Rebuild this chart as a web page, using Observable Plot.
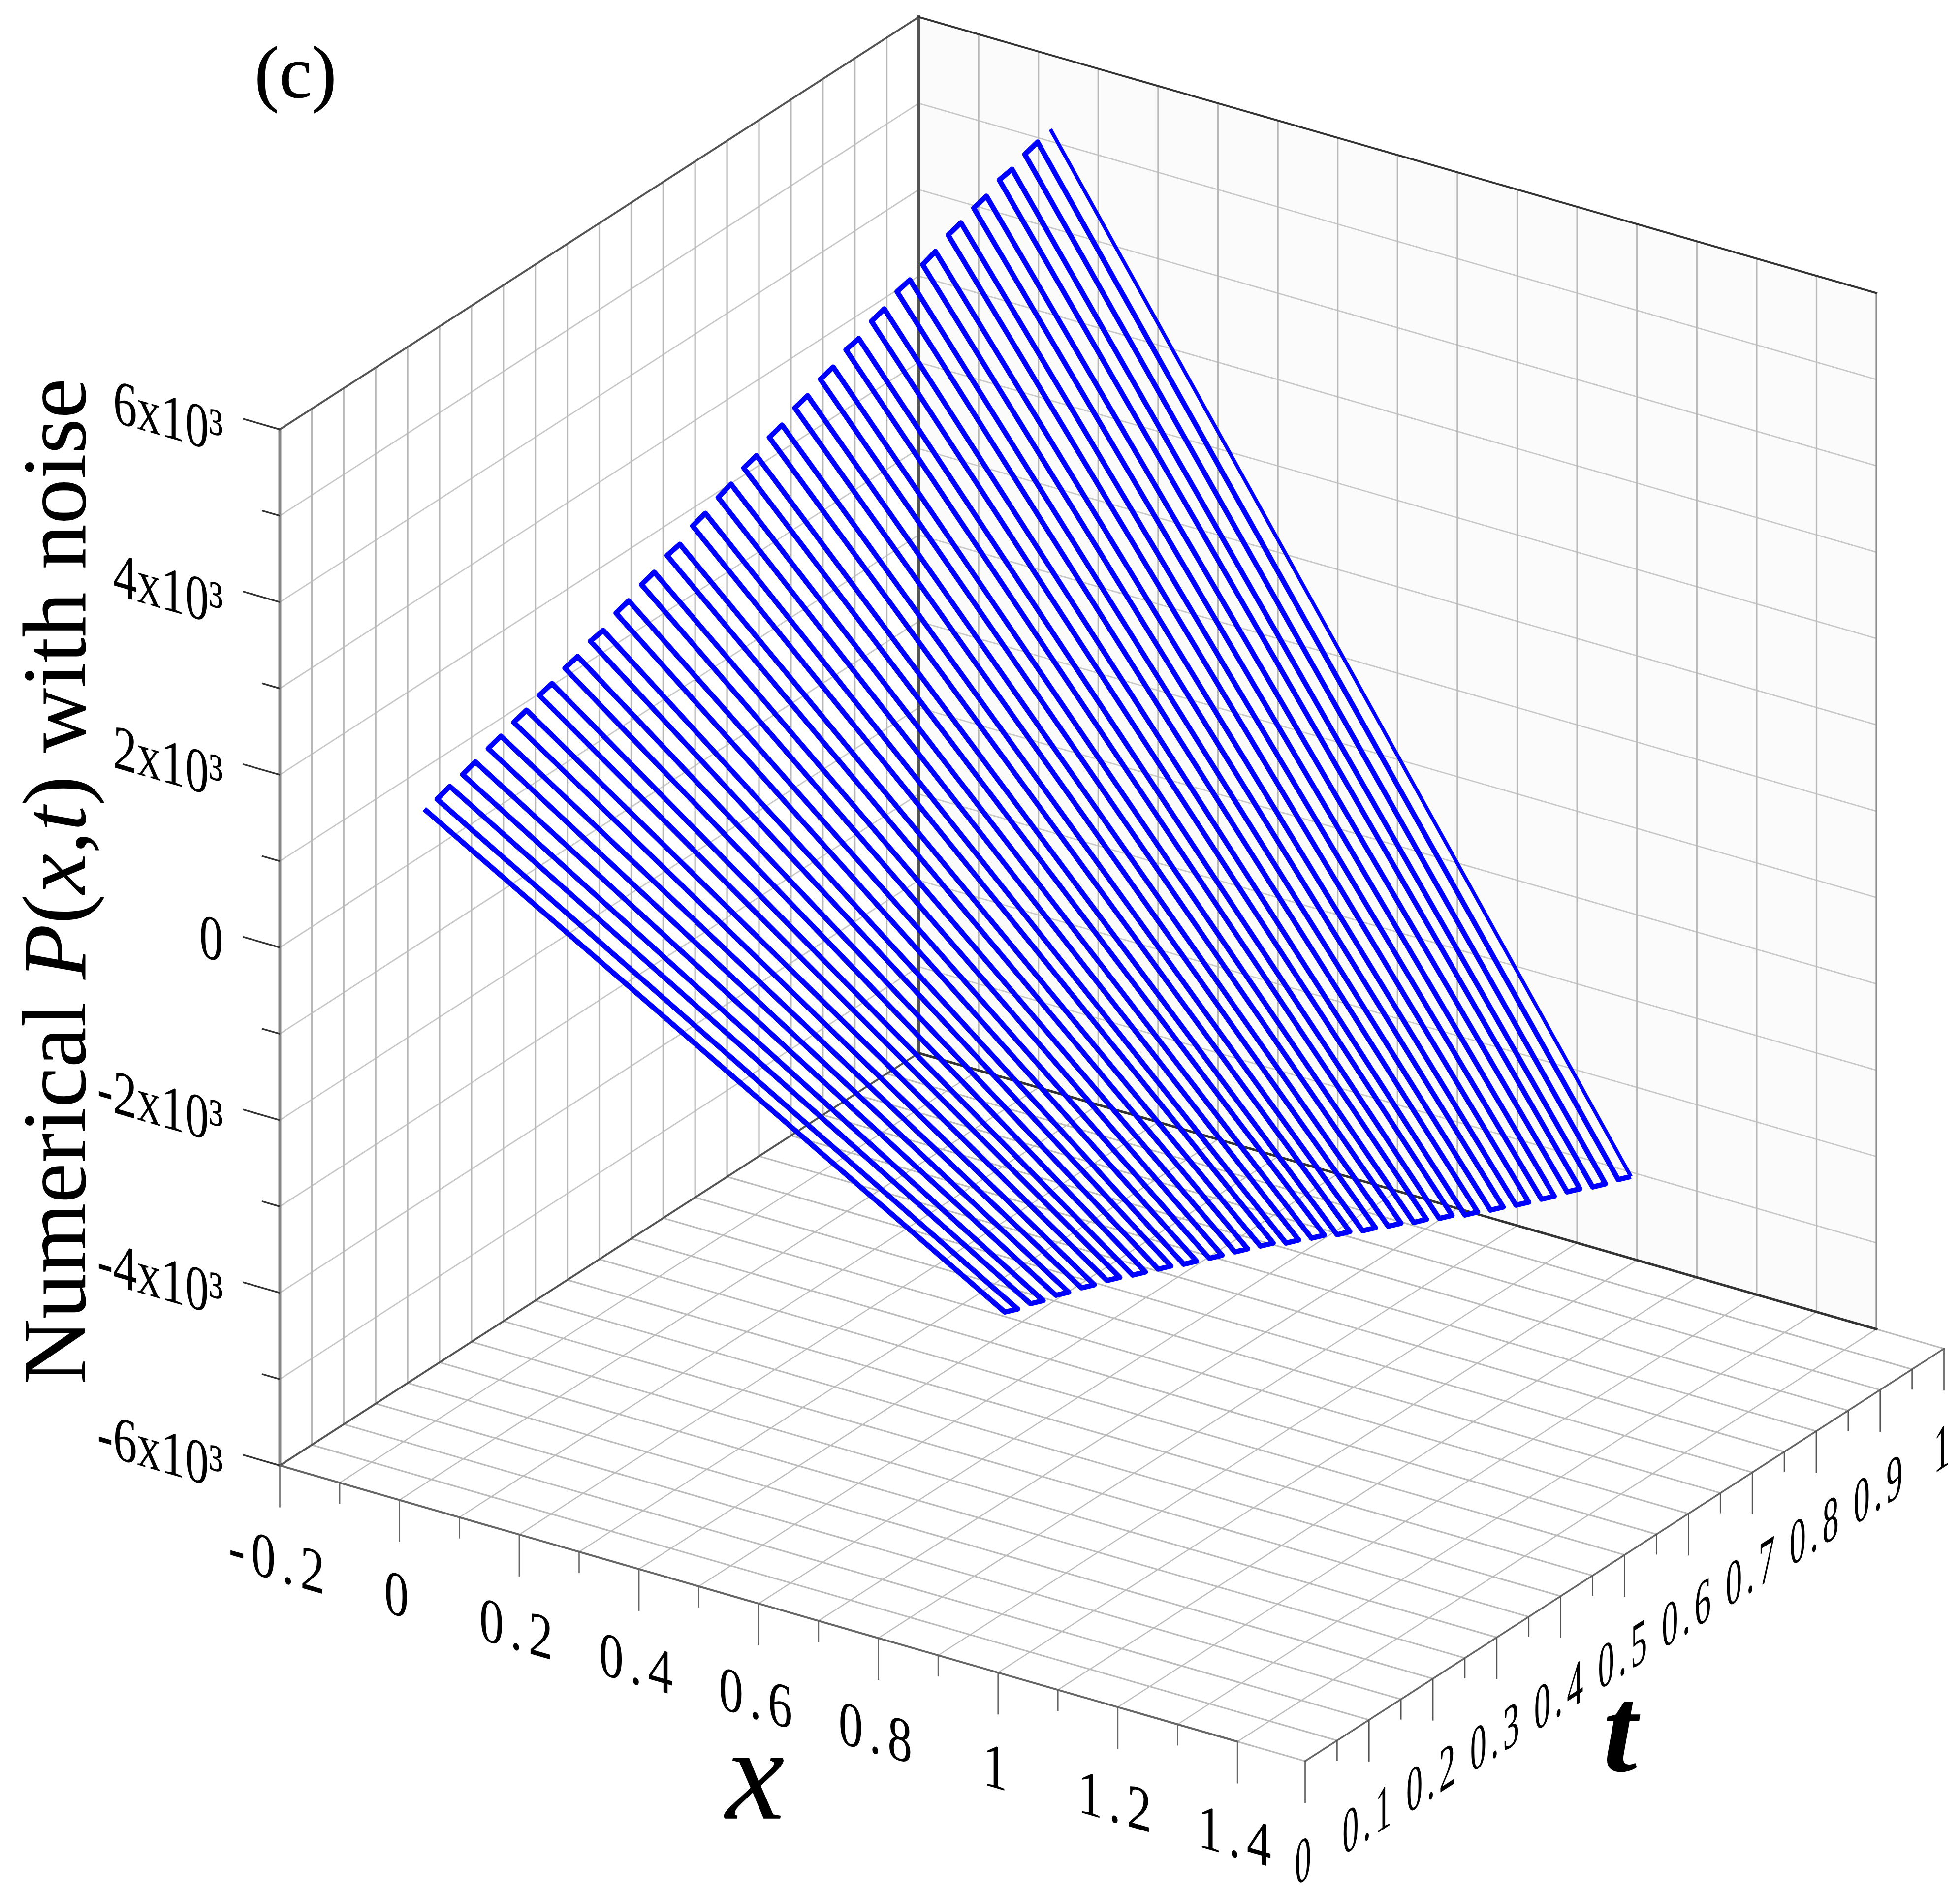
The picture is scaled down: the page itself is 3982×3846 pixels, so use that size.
<!DOCTYPE html>
<html>
<head>
<meta charset="utf-8">
<script src="https://cdn.jsdelivr.net/npm/d3@7"></script>
<script src="https://cdn.jsdelivr.net/npm/@observablehq/plot@0.6"></script>
<style>
html,body{margin:0;padding:0;background:#fff;overflow:hidden}
svg{display:block}
</style>
</head>
<body>
<div id="chart"></div>
<script>
// ---- chart values ----
const xGridValues = [-0.2,-0.1,0,0.1,0.2,0.3,0.4,0.5,0.6,0.7,0.8,0.9,1,1.1,1.2,1.3,1.4];
const tGridValues = [0,0.05,0.1,0.15,0.2,0.25,0.3,0.35,0.4,0.45,0.5,0.55,0.6,0.65,0.7,0.75,0.8,0.85,0.9,0.95,1];
const pGridValues = [-6000,-5000,-4000,-3000,-2000,-1000,0,1000,2000,3000,4000,5000,6000];
const xTickLabels = [[-0.2,"-0.2"],[0,"0"],[0.2,"0.2"],[0.4,"0.4"],[0.6,"0.6"],[0.8,"0.8"],[1,"1"],[1.2,"1.2"],[1.4,"1.4"]];
const tTickLabels = [[0,"0"],[0.1,"0.1"],[0.2,"0.2"],[0.3,"0.3"],[0.4,"0.4"],[0.5,"0.5"],[0.6,"0.6"],[0.7,"0.7"],[0.8,"0.8"],[0.9,"0.9"],[1,"1"]];
const pTickLabels = [[6000,"6x10³"],[4000,"4x10³"],[2000,"2x10³"],[0,"0"],[-2000,"-2x10³"],[-4000,"-4x10³"],[-6000,"-6x10³"]];

// zig-zag sampled curve: one P value at each end of every pass
const curveT = [0.02,0.04,0.06,0.08,0.10,0.12,0.14,0.16,0.18,0.20,0.22,0.24,0.26,0.28,0.30,0.32,0.34,0.36,0.38,0.40,0.42,0.44,0.46,0.48,0.50,
                0.52,0.54,0.56,0.58,0.60,0.62,0.64,0.66,0.68,0.70,0.72,0.74,0.76,0.78,0.80,0.82,0.84,0.86,0.88,0.90,0.92,0.94,0.96,0.98,1.00];
const curveLeftP = [1948,1966,2019,2061,2112,2171,2219,2283,2329,2405,2446,2528,2569,2650,2680,2784,2831,2923,2971,3069,3104,3220,3272,3359,3418,
                    3510,3557,3672,3720,3823,3870,3963,4010,4114,4149,4253,4301,4404,4446,4527,4585,4678,4725,4800,4842,4934,4963,5040,5087,5139];
const curveRightP = [-1940,-2000,-2034,-2094,-2128,-2188,-2233,-2293,-2339,-2399,-2467,-2527,-2589,-2649,-2724,-2784,-2846,-2906,-2963,-3023,-3087,-3147,-3243,-3303,-3377,
                     -3437,-3528,-3588,-3674,-3734,-3813,-3873,-3959,-4019,-4105,-4165,-4256,-4316,-4390,-4450,-4524,-4584,-4646,-4706,-4752,-4812,-4886,-4946,-4992,-5052];
const curveXLeft = 0.02, curveXRight = 0.99;

// ---- box of the 3-D plot ----
const xMin = -0.2, xMax = 1.4, xFloorEnd = 1.513, tMin = 0, tMax = 1, pMin = -6000, pMax = 6000;
const W = 3982, H = 3846;
const view = {x0: 568, y0: 2977, xX: 1216, xY: 350.6, tX: 1298, tY: -838, pY: -2105 / 12000};
const px = (x, t) => view.x0 + (x - xMin) * view.xX + t * view.tX;
const py = (x, t, p) => view.y0 + (x - xMin) * view.xY + t * view.tY + (p - pMin) * view.pY;
const P3 = (x, t, p) => ({X: px(x, t), Y: py(x, t, p)});
const seg = (a, b) => ({x1: px(a[0], a[1]), y1: py(a[0], a[1], a[2]), x2: px(b[0], b[1]), y2: py(b[0], b[1], b[2])});
const links = (arr, opts) => Plot.link(arr, {x1: "x1", y1: "y1", x2: "x2", y2: "y2", strokeLinecap: "square", ...opts});

// ---- derived geometry (through the projection only) ----
const rightWall = [[xMin,tMax,pMin],[xMax,tMax,pMin],[xMax,tMax,pMax],[xMin,tMax,pMax]].map(d => P3(...d));
const leftWallT = tGridValues.map(t => seg([xMin,t,pMin],[xMin,t,pMax]));
const leftWallP = pGridValues.map(p => seg([xMin,tMin,p],[xMin,tMax,p]));
const rightWallX = xGridValues.map(x => seg([x,tMax,pMin],[x,tMax,pMax]));
const rightWallP = pGridValues.map(p => seg([xMin,tMax,p],[xMax,tMax,p]));
const floorX = xGridValues.map(x => seg([x,tMin,pMin],[x,tMax,pMin]));
const floorT = tGridValues.map(t => seg([xMin,t,pMin],[xFloorEnd,t,pMin]));
const isMajor = (v, step) => Math.abs(Math.round(v / step) * step - v) < 1e-6;
const xTicks = xGridValues.map(x => seg([x,tMin,pMin],[x,tMin,pMin - (isMajor(x,0.2) ? 485 : 245)]));
const tTicks = tGridValues.map(t => seg([xFloorEnd,t,pMin],[xFloorEnd,t,pMin - (isMajor(t,0.1) ? 485 : 235)]));
const pTicks = pGridValues.map(p => seg([xMin,tMin,p],[xMin - (isMajor(p,2000) ? 0.0617 : 0.03),tMin,p]));

const curve = [];
curveT.forEach((t, i) => {
  const L = P3(curveXLeft, t, curveLeftP[i]), R = P3(curveXRight, t, curveRightP[i]);
  if (i % 2 === 0) curve.push(L, R); else curve.push(R, L);
});
const lastPass = curve.slice(-2);   // the closing pass is drawn a little finer in the reference
const mainPasses = curve.slice(0, -1);

const xLabelData = xTickLabels.map(([v, s]) => ({...P3(v, tMin, -7110), s}));
const tLabelData = tTickLabels.map(([v, s]) => ({...P3(xFloorEnd, v, -7140), s}));
const pLabelData = pTickLabels.map(([v, s]) => ({...P3(-0.2946, tMin, v - (v === 0 ? 130 : 234)), s}));
const titles = {
  c: P3(-0.2, 0.0247, 10000),
  y: P3(-0.5734, 0, 20),
  x: P3(0.594, 0, -8010),
  t: P3(xFloorEnd, 0.4931, -8014)
};

const serif = "'Liberation Serif','Times New Roman',serif";
const txt = (data, label, opts) => Plot.text(data, {x: "X", y: "Y", text: "s", fill: "#000", fontFamily: serif, ariaDescription: label, ...opts});

const chart = Plot.plot({
  width: W, height: H,
  marginTop: 0, marginRight: 0, marginBottom: 0, marginLeft: 0,
  x: {domain: [0, W], range: [0, W], axis: null},
  y: {domain: [0, H], range: [0, H], axis: null},
  style: {background: "#fff", maxWidth: "none"},
  marks: [
    Plot.line(rightWall, {x: "X", y: "Y", z: null, fill: "#fbfbfb", stroke: "none", curve: "linear-closed"}),
    links(leftWallP, {stroke: "#c8c8c8", strokeWidth: 2.8}),
    links(leftWallT, {stroke: "#b8b8b8", strokeWidth: 3.2}),
    links(rightWallP, {stroke: "#c8c8c8", strokeWidth: 2.8}),
    links(rightWallX, {stroke: "#b8b8b8", strokeWidth: 3.2}),
    links(floorX, {stroke: "#bcbcbc", strokeWidth: 2.4}),
    links(floorT, {stroke: "#bcbcbc", strokeWidth: 3.2}),
    // box edges
    links([seg([xMin,tMin,pMin],[xMin,tMin,pMax])], {stroke: "#858585", strokeWidth: 6}),
    links([seg([xMin,tMax,pMin],[xMin,tMax,pMax])], {stroke: "#555", strokeWidth: 7}),
    links([seg([xMax,tMax,pMin],[xMax,tMax,pMax])], {stroke: "#8c8c8c", strokeWidth: 3}),
    links([seg([xMin,tMin,pMax],[xMin,tMax,pMax])], {stroke: "#555", strokeWidth: 4}),
    links([seg([xMin,tMax,pMax],[xMax,tMax,pMax])], {stroke: "#333", strokeWidth: 4}),
    links([seg([xMin,tMin,pMin],[xMin,tMax,pMin])], {stroke: "#555", strokeWidth: 4}),
    links([seg([xMin,tMax,pMin],[xMax,tMax,pMin])], {stroke: "#333", strokeWidth: 5}),
    links([seg([xMin,tMin,pMin],[xMax,tMin,pMin])], {stroke: "#666", strokeWidth: 4}),
    links([seg([xFloorEnd,tMin,pMin],[xFloorEnd,tMax,pMin])], {stroke: "#666", strokeWidth: 3.5}),
    links(xTicks, {stroke: "#666", strokeWidth: 2.6, strokeLinecap: "butt"}),
    links(tTicks, {stroke: "#555", strokeWidth: 2.6, strokeLinecap: "butt"}),
    links(pTicks, {stroke: "#333", strokeWidth: 3.4, strokeLinecap: "butt"}),
    // data
    Plot.line(mainPasses, {x: "X", y: "Y", z: null, stroke: "#0000ff", strokeWidth: 10.5, strokeLinejoin: "round", strokeLinecap: "butt", curve: "linear"}),
    Plot.line(lastPass, {x: "X", y: "Y", z: null, stroke: "#0000ff", strokeWidth: 7.5, strokeLinecap: "butt", curve: "linear"}),
    // text
    txt(xLabelData, "xlabels", {fontSize: 128, textAnchor: "middle", lineAnchor: "middle"}),
    txt(tLabelData, "tlabels", {fontSize: 128, textAnchor: "middle", lineAnchor: "middle"}),
    txt(pLabelData, "plabels", {fontSize: 128, textAnchor: "end", lineAnchor: "middle"}),
    txt([{...titles.c, s: "(c)"}], "panel", {fontSize: 150, textAnchor: "middle", lineAnchor: "middle", stroke: "#000", strokeWidth: 1}),
    txt([{...titles.y, s: "Numerical P(x,t) with noise"}], "ytitle", {fontSize: 184, rotate: -90, textAnchor: "middle", lineAnchor: "middle"}),
    txt([{...titles.x, s: "x"}], "xtitle", {fontSize: 270, fontStyle: "italic", textAnchor: "middle", lineAnchor: "middle"}),
    txt([{...titles.t, s: "t"}], "ttitle", {fontSize: 250, fontStyle: "italic", fontWeight: "bold", textAnchor: "middle", lineAnchor: "middle"})
  ]
});
document.getElementById("chart").appendChild(chart);

// tick labels lie in the plane of the box: shear them along their axis
const shear = (label, angle, scaleX, spacing) => d3.select(chart).selectAll(`g[aria-description="${label}"] text`).each(function () {
  const s = d3.select(this);
  s.attr("transform", `${s.attr("transform")} skewY(${angle}) scale(${scaleX},1)`).style("letter-spacing", spacing);
});
shear("xlabels", 16.1, 0.78, "0.125em");
shear("plabels", 16.1, 0.76, "0");
shear("tlabels", -32.8, 0.52, "0.125em");

// italic P, x and t in the vertical title
const yt = d3.select(chart).select('g[aria-description="ytitle"] text');
const parts = [["Numerical ",0],["P",1],["(",0],["x",1],[",",0],["t",1],[") with noise",0]];
yt.text(null);
parts.forEach(([s, it]) => yt.append("tspan").attr("font-style", it ? "italic" : "normal").text(s));
</script>
</body>
</html>
